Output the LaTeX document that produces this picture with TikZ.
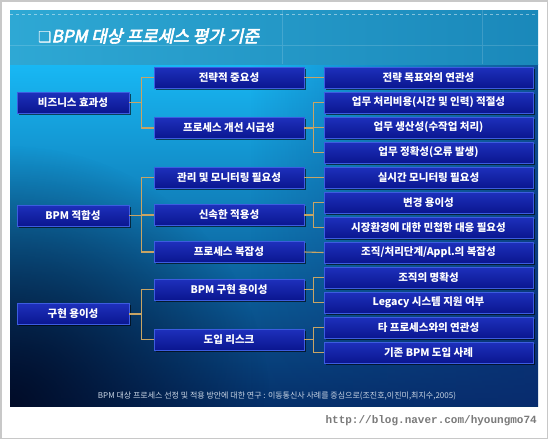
\documentclass[tikz,border=0pt]{standalone}
\usepackage{fontspec}
\setmainfont{Noto Sans CJK KR}
\newfontfamily\krtitle[FakeSlant=0.22,FakeBold=3.5]{Noto Sans CJK KR}
\newfontfamily\dejavu{DejaVu Sans}
\newfontfamily\urlfont{Liberation Mono}
\usetikzlibrary{shadows,fadings}
\definecolor{boxtop}{HTML}{1E30BC}
\definecolor{boxbot}{HTML}{0A1690}
\definecolor{boxedge}{HTML}{3C5CE0}
\definecolor{conncol}{HTML}{C8A464}
\definecolor{bandL}{HTML}{2EA8D4}
\definecolor{bandR}{HTML}{1A88BA}
\definecolor{panT}{HTML}{18B8F4}
\definecolor{panM}{HTML}{0C78CC}
\definecolor{panB}{HTML}{05306A}
\definecolor{darkcorner}{HTML}{010C28}
\definecolor{rightdark}{HTML}{0A2A70}
\definecolor{footcol}{HTML}{C8D4E4}
\definecolor{urlcol}{HTML}{7A7A7A}
\definecolor{framecol}{HTML}{C8C8C8}
\tikzfading[name=cornerfade, inner color=transparent!0, outer color=transparent!100]
\tikzfading[name=rightfade, left color=transparent!100, right color=transparent!0]
\begin{document}
\begin{tikzpicture}[x=1pt,y=-1pt,
  box/.style={draw=boxedge, line width=0.8pt, top color=boxtop, bottom color=boxbot,
    minimum height=21pt, inner sep=0pt, text=white,
    font=\bfseries\fontsize{10.5}{12}\selectfont,
    drop shadow={shadow xshift=1.5pt, shadow yshift=-1.5pt, fill=black, opacity=0.6}},
  lone/.style={box, minimum width=112pt},
  ltwo/.style={box, minimum width=150pt},
  lthree/.style={box, minimum width=209pt},
  conn/.style={draw=conncol, line width=1.1pt}]
\useasboundingbox (0,0) rectangle (548,439);
% frame
\fill[white] (0,0) rectangle (548,439);
\draw[framecol, line width=1.5pt] (0.75,0.75) rectangle (547.25,438.25);
% panel background
\shade[top color=panT, middle color=panM, bottom color=panB] (10,64) rectangle (538,406);
\begin{scope}
  \clip (10,64) rectangle (538,406);
  \fill[rightdark, path fading=rightfade, opacity=0.7] (250,64) rectangle (538,406);
  \fill[darkcorner, path fading=cornerfade] (10,406) circle (260);
\end{scope}
\shade[left color=bandL, right color=bandR] (10,10) rectangle (538,64);
\draw[white, opacity=0.45, dashed, line width=0.5pt] (10,14) -- (538,14);
\draw[white, opacity=0.15, line width=0.5pt] (282,10) -- (282,64) (482,10) -- (482,64) (10,45) -- (538,45);
% title
\node[anchor=west, text=white, inner sep=0pt] (title) at (38,36)
  {{\dejavu\fontsize{15}{18}\selectfont ❑}{\krtitle\fontsize{17}{20}\selectfont BPM 대상 프로세스 평가 기준}};
% level 1
\node[lone] (a) at (73,102.5) {비즈니스 효과성};
\node[lone] (b) at (73,215.5) {BPM 적합성};
\node[lone] (c) at (73,314) {구현 용이성};
% level 2
\node[ltwo] (a1) at (229,77.5) {전략적 중요성};
\node[ltwo] (a2) at (229,128) {프로세스 개선 시급성};
\node[ltwo] (b1) at (229,177.5) {관리 및 모니터링 필요성};
\node[ltwo] (b2) at (229,215) {신속한 적용성};
\node[ltwo] (b3) at (229,252) {프로세스 복잡성};
\node[ltwo] (c1) at (229,289.5) {BPM 구현 용이성};
\node[ltwo] (c2) at (229,339.5) {도입 리스크};
% level 3
\node[lthree] (a11) at (428.5,77.5) {전략 목표와의 연관성};
\node[lthree] (a21) at (428.5,102.5) {업무 처리비용(시간 및 인력) 적절성};
\node[lthree] (a22) at (428.5,127.5) {업무 생산성(수작업 처리)};
\node[lthree] (a23) at (428.5,152.5) {업무 정확성(오류 발생)};
\node[lthree] (b11) at (428.5,177.5) {실시간 모니터링 필요성};
\node[lthree] (b21) at (428.5,202.5) {변경 용이성};
\node[lthree] (b22) at (428.5,227.5) {시장환경에 대한 민첩한 대응 필요성};
\node[lthree] (b31) at (428.5,252.5) {조직/처리단계/Appl.의 복잡성};
\node[lthree] (c11) at (428.5,277.5) {조직의 명확성};
\node[lthree] (c12) at (428.5,302.5) {Legacy 시스템 지원 여부};
\node[lthree] (c21) at (428.5,327.5) {타 프로세스와의 연관성};
\node[lthree] (c22) at (428.5,352.5) {기존 BPM 도입 사례};
% connectors level 1 -> 2
\draw[conn] (a.east) -- ++(12,0) coordinate (ja);
\draw[conn] (ja) |- (a1.west);
\draw[conn] (ja) |- (a2.west);
\draw[conn] (b.east) -- ++(12,0) coordinate (jb);
\draw[conn] (jb) |- (b1.west);
\draw[conn] (jb) |- (b2.west);
\draw[conn] (jb) |- (b3.west);
\draw[conn] (c.east) -- ++(12,0) coordinate (jc);
\draw[conn] (jc) |- (c1.west);
\draw[conn] (jc) |- (c2.west);
% connectors level 2 -> 3
\draw[conn] (a1.east) -- (a11.west);
\draw[conn] (a2.east) -- ++(9,0) coordinate (ja2);
\draw[conn] (ja2) |- (a21.west);
\draw[conn] (ja2) |- (a22.west);
\draw[conn] (ja2) |- (a23.west);
\draw[conn] (b1.east) -- (b11.west);
\draw[conn] (b2.east) -- ++(9,0) coordinate (jb2);
\draw[conn] (jb2) |- (b21.west);
\draw[conn] (jb2) |- (b22.west);
\draw[conn] (b3.east) -- (b31.west);
\draw[conn] (c1.east) -- ++(9,0) coordinate (jc1);
\draw[conn] (jc1) |- (c11.west);
\draw[conn] (jc1) |- (c12.west);
\draw[conn] (c2.east) -- ++(9,0) coordinate (jc2);
\draw[conn] (jc2) |- (c21.west);
\draw[conn] (jc2) |- (c22.west);
% footer
\node[text=footcol, font=\fontsize{8}{9}\selectfont, inner sep=0pt] (foot) at (277,396)
  {BPM 대상 프로세스 선정 및 적용 방안에 대한 연구 : 이동통신사 사례를 중심으로(조진호,이진미,최지수,2005)};
\node[anchor=east, text=urlcol, font=\urlfont\bfseries\fontsize{11}{12}\selectfont, inner sep=0pt] (url) at (537,421)
  {http://blog.naver.com/hyoungmo74};
\end{tikzpicture}
\end{document}
